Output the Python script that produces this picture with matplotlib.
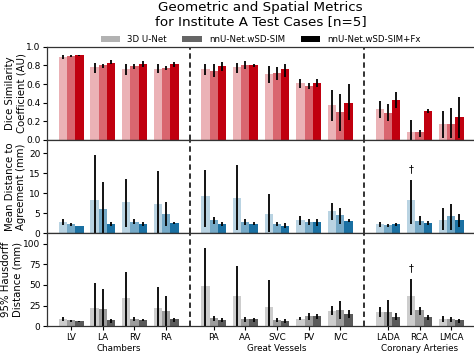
import matplotlib
matplotlib.use("Agg")
import matplotlib.pyplot as plt
from matplotlib.patches import Patch
import numpy as np

structures = ["LV", "LA", "RV", "RA", "PA", "AA", "SVC", "PV", "IVC", "LADA", "RCA", "LMCA"]
positions = [0, 1, 2, 3, 4.5, 5.5, 6.5, 7.5, 8.5, 10, 11, 12]
group_names = ["Chambers", "Great Vessels", "Coronary Arteries"]
group_centers = [1.5, 6.5, 11]
group_splits = [3.75, 9.25]
models = ["3D U-Net", "nnU-Net.wSD-SIM", "nnU-Net.wSD-SIM+Fx"]

# Dice (mean, lower, upper) per model
dice_mean = [
    [0.886, 0.78, 0.757, 0.757, 0.76, 0.78, 0.707, 0.607, 0.37, 0.33, 0.09, 0.17],
    [0.904, 0.80, 0.79, 0.775, 0.74, 0.80, 0.714, 0.58, 0.30, 0.29, 0.08, 0.175],
    [0.91, 0.83, 0.82, 0.815, 0.79, 0.80, 0.757, 0.614, 0.40, 0.425, 0.31, 0.246],
]
dice_lo = [
    [0.864, 0.72, 0.70, 0.72, 0.70, 0.72, 0.61, 0.56, 0.20, 0.24, 0.0, 0.02],
    [0.895, 0.77, 0.76, 0.75, 0.67, 0.76, 0.64, 0.55, 0.10, 0.20, 0.03, 0.02],
    [0.905, 0.81, 0.785, 0.785, 0.74, 0.78, 0.68, 0.57, 0.21, 0.34, 0.29, 0.025],
]
dice_hi = [
    [0.907, 0.83, 0.81, 0.81, 0.81, 0.83, 0.79, 0.65, 0.54, 0.42, 0.21, 0.31],
    [0.912, 0.82, 0.82, 0.79, 0.81, 0.85, 0.78, 0.61, 0.49, 0.39, 0.11, 0.34],
    [0.915, 0.86, 0.85, 0.836, 0.84, 0.82, 0.81, 0.65, 0.60, 0.51, 0.33, 0.46],
]

# Mean distance to agreement (mm)
mda_mean = [
    [2.8, 8.3, 7.7, 7.3, 9.4, 8.8, 4.75, 3.3, 5.5, 2.3, 8.25, 3.4],
    [2.2, 6.0, 2.9, 4.75, 3.2, 2.9, 2.3, 2.8, 4.5, 2.0, 3.1, 4.3],
    [1.8, 2.3, 2.3, 2.6, 2.3, 2.3, 1.9, 2.8, 3.1, 2.25, 2.6, 3.2],
]
mda_lo = [
    [2.0, 0.0, 1.5, 0.0, 1.5, 0.7, 0.3, 2.1, 3.2, 1.5, 2.25, 0.7],
    [1.8, 0.0, 2.25, 1.8, 2.3, 2.1, 1.8, 2.1, 2.3, 1.5, 2.1, 0.8],
    [1.7, 1.8, 1.8, 2.25, 1.7, 2.0, 1.4, 1.8, 2.7, 1.8, 2.1, 1.5],
]
mda_hi = [
    [3.5, 19.6, 13.6, 15.5, 15.7, 17.1, 9.8, 4.4, 7.5, 2.9, 13.3, 6.2],
    [2.5, 12.75, 3.6, 7.75, 4.0, 3.6, 2.8, 3.5, 6.2, 2.3, 4.2, 7.3],
    [1.9, 2.8, 2.8, 2.9, 2.9, 2.7, 2.5, 3.5, 3.5, 2.5, 3.0, 4.8],
]

# 95% Hausdorff distance (mm)
hd_mean = [
    [9.3, 22.7, 34, 22.3, 48.2, 36.8, 23.9, 9.3, 18.2, 17.4, 36.4, 8.9],
    [7.3, 21, 8.9, 18.6, 10.1, 8.9, 8.1, 12.5, 19.8, 17.4, 19.4, 8.9],
    [6.1, 7.3, 7.7, 8.5, 7.7, 8.9, 6.9, 12.5, 15, 11.3, 11.3, 7.3],
]
hd_lo = [
    [6, 0, 0, 0, 0, 0, 0, 7.3, 13.4, 11, 14.2, 5.3],
    [5.7, 0, 6, 0, 6, 5.7, 5.3, 8.1, 9.3, 0, 13.8, 5.3],
    [5.3, 4.5, 6.5, 5.7, 5.3, 5.7, 4.5, 8.5, 10, 7.7, 8.1, 4.5],
]
hd_hi = [
    [11.3, 51.8, 66, 47, 94.3, 73, 56, 10.9, 24.7, 23.5, 57, 12.1],
    [8.1, 45.7, 10.9, 36.8, 12.5, 11.3, 10.5, 15.8, 30.4, 32, 23.5, 10.9],
    [6.5, 9.3, 8.5, 10.1, 9.7, 10.5, 8.9, 15, 19.8, 15.8, 14.2, 9.3],
]

# dagger marks: (structure, value) per panel
mda_dagger = [("RCA", 16.0)]
hd_dagger = [("RCA", 70.0)]

panels = [
    dict(mean=dice_mean, lo=dice_lo, hi=dice_hi, color="#c0000f", ylim=(0, 1.0),
         ticks=np.arange(0, 1.01, 0.2), fmt="{:.1f}",
         label="Dice Similarity\nCoefficient (AU)", dagger=[], lx=-0.05),
    dict(mean=mda_mean, lo=mda_lo, hi=mda_hi, color="#1a70a2", ylim=(0, 23.3),
         ticks=[0, 5, 10, 15, 20], fmt="{:.0f}",
         label="Mean Distance to\nAgreement (mm)", dagger=mda_dagger, lx=-0.05),
    dict(mean=hd_mean, lo=hd_lo, hi=hd_hi, color="#5a5a5a", ylim=(0, 112.5),
         ticks=[0, 25, 50, 75, 100], fmt="{:.0f}",
         label="95% Hausdorff\nDistance (mm)", dagger=hd_dagger, lx=-0.058),
]
alphas = [0.3, 0.6, 1.0]
width = 0.26

fig = plt.figure(figsize=(4.74, 3.54), dpi=100)
left, right, top, bottom = 0.1, 1.002, 0.868, 0.078
h = (top - bottom) / 3
axes = [fig.add_axes([left, top - (i + 1) * h, right - left, h]) for i in range(3)]

x = np.array(positions)
for ax, p in zip(axes, panels):
    for m in range(3):
        mean = np.array(p["mean"][m])
        lo = np.array(p["lo"][m])
        hi = np.array(p["hi"][m])
        xs = x + (m - 1) * width
        ax.bar(xs, mean, width=width, color=p["color"], alpha=alphas[m], lw=0)
        ax.errorbar(xs, mean, yerr=[mean - lo, hi - mean], fmt="none",
                    ecolor="black", elinewidth=1.3, capsize=0)
    for xv in group_splits:
        ax.axvline(xv, color="#222", ls=(0, (3, 2)), lw=1.3)
    for name, yv in p["dagger"]:
        xi = positions[structures.index(name)] - width
        ax.text(xi, yv, "\u2020", ha="center", va="center", fontsize=7)
    ax.set_xlim(-0.75, 12.75)
    ax.set_ylim(*p["ylim"])
    ax.set_yticks(p["ticks"])
    ax.set_yticklabels([p["fmt"].format(t) for t in p["ticks"]], fontsize=6.5)
    ax.set_ylabel(p["label"], fontsize=7.3, linespacing=1.15)
    ax.yaxis.set_label_coords(p["lx"], 0.5)
    ax.tick_params(axis="both", length=3, width=0.8, pad=2)
    for s in ax.spines.values():
        s.set_linewidth(0.9)
        s.set_color("#333")

for ax in axes[:2]:
    ax.set_xticks(positions)
    ax.tick_params(axis="x", labelbottom=False, length=0)
axes[2].set_xticks(positions)
axes[2].set_xticklabels(structures, fontsize=6.3)

for name, c in zip(group_names, group_centers):
    axes[2].text(c, -0.235, name, ha="center", va="center", fontsize=6.3,
                 transform=axes[2].get_xaxis_transform())

fig.text(0.55, 0.997, "Geometric and Spatial Metrics\nfor Institute A Test Cases [n=5]",
         ha="center", va="top", fontsize=9.7, linespacing=1.1)
handles = [Patch(color="black", alpha=a, lw=0) for a in alphas]
fig.legend(handles, models, loc="center", bbox_to_anchor=(0.55, 0.888), ncol=3,
           frameon=False, fontsize=6.2, handlelength=2.3, handleheight=0.8,
           columnspacing=1.8, handletextpad=0.8, borderpad=0.2)

fig.savefig("out.png", dpi=100)
